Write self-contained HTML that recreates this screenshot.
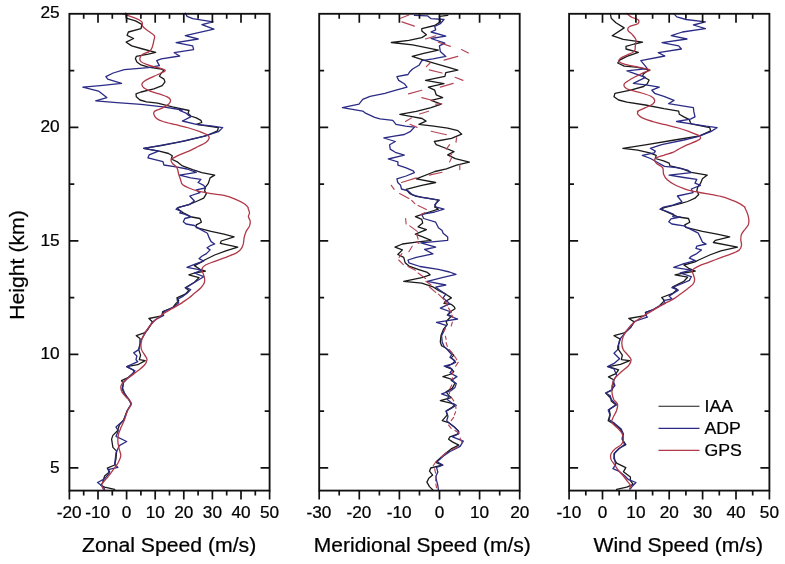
<!DOCTYPE html><html><head><meta charset="utf-8"><title>Wind profiles</title><style>html,body{margin:0;padding:0;background:#fff}svg{display:block}text{stroke:#000;stroke-width:0.25px;font-family:"Liberation Sans",Arial,sans-serif;fill:#000}</style></head><body>
<svg width="785" height="564" viewBox="0 0 785 564">
<rect width="785" height="564" fill="#fff"/>
<g fill="none" stroke-linejoin="round" stroke-linecap="round" stroke-width="1.3">
<polyline points="125.8,13.2 126.2,18.2 135.4,20.9 141.9,24.3 141.0,28.7 128.4,32.0 127.1,35.3 133.6,38.5 126.2,42.2 131.7,45.9 142.8,49.0 155.7,52.3 148.3,54.2 136.3,56.4 135.4,58.8 136.9,61.9 141.0,64.9 148.3,67.1 161.3,69.0 164.0,70.8 161.3,73.0 159.4,76.3 164.0,79.1 165.0,81.9 162.2,85.6 153.9,88.9 141.0,92.0 136.0,93.9 136.3,96.7 140.0,100.0 146.5,101.8 157.6,103.1 172.4,106.8 189.0,110.5 188.9,111.0 188.0,113.2 190.7,116.0 196.3,117.9 200.9,120.3 201.8,122.5 196.3,124.3 218.4,127.6 217.5,130.8 207.4,135.4 185.2,140.9 161.2,145.6 143.6,148.3 159.3,151.1 168.6,153.5 172.3,155.7 171.3,159.0 177.8,162.2 182.4,165.9 192.6,169.6 201.8,172.7 214.7,175.1 210.1,177.9 208.3,183.4 205.5,187.1 204.6,190.8 206.4,193.6 203.7,198.2 196.3,201.5 188.9,204.7 178.7,207.4 176.9,208.3 183.3,212.9 191.7,217.0 200.0,218.5 201.4,222.2 196.3,224.9 196.3,227.7 211.1,231.4 224.0,234.2 234.1,236.9 221.2,241.0 220.3,243.4 237.8,247.1 225.8,250.8 214.7,255.0 204.6,260.0 201.8,261.9 194.4,265.6 200.0,269.3 205.5,271.1 194.4,273.0 188.9,274.8 199.0,277.6 194.4,282.2 185.2,287.7 188.9,290.5 185.2,294.2 176.9,297.9 178.7,300.7 176.0,303.4 172.9,307.5 162.7,311.7 161.8,315.9 148.9,318.5 152.6,321.9 148.0,329.2 144.3,332.9 136.3,335.7 140.0,338.5 140.0,344.0 138.7,349.6 140.6,355.1 139.3,359.7 145.2,360.6 137.8,364.7 126.7,366.6 133.7,370.3 134.1,372.7 128.6,377.3 121.5,380.6 123.4,383.7 122.1,388.4 123.9,393.0 126.7,396.7 128.9,399.4 128.9,399.6 131.3,404.0 127.3,410.5 123.9,419.7 119.3,425.2 117.5,430.8 112.9,435.4 111.6,439.1 112.9,447.4 116.6,451.1 116.0,458.5 114.7,465.0 107.3,468.1 109.7,471.8 104.6,476.0 102.7,482.5 100.9,485.3 104.6,487.1 114.7,489.3" stroke="#1a1a1a"/>
<polyline points="185.3,13.2 187.1,16.3 192.7,18.7 213.0,21.9 201.9,24.6 213.9,29.2 185.3,35.7 198.2,39.0 176.1,42.7 192.7,45.9 193.6,49.6 174.2,52.7 179.7,56.0 161.3,58.8 156.7,60.6 159.4,65.6 148.3,67.7 124.3,69.7 113.2,73.0 105.9,76.7 107.7,79.1 121.6,83.4 100.3,85.6 82.8,87.1 98.5,91.1 106.8,97.6 95.7,100.9 116.9,102.6 141.0,104.4 163.1,106.8 182.5,110.0 179.6,110.5 186.1,113.2 190.7,116.9 182.4,121.0 196.3,124.3 211.1,125.8 222.7,127.6 218.4,131.7 203.7,136.3 179.6,141.9 159.3,145.6 143.6,148.3 158.4,151.1 149.2,154.8 147.9,157.9 163.0,161.6 163.9,165.0 176.0,166.8 187.0,169.0 196.3,172.3 179.6,175.1 190.7,177.9 200.9,179.4 198.1,182.5 203.7,185.3 205.5,188.0 196.3,189.9 200.0,192.7 189.8,196.0 194.4,201.0 188.9,204.7 179.6,207.1 176.0,209.2 181.5,211.5 179.6,212.9 185.2,214.4 190.7,217.0 184.8,218.5 183.3,221.8 186.1,224.0 194.4,225.5 199.0,228.6 207.4,233.2 209.2,237.9 211.1,241.6 214.7,244.0 211.1,245.3 207.0,247.7 210.1,249.9 206.4,253.6 201.8,256.3 199.0,258.7 203.7,261.0 196.3,263.7 187.0,267.4 201.8,270.2 194.4,273.0 203.7,276.7 196.3,281.3 186.1,287.7 190.7,289.6 188.0,292.4 183.3,296.1 176.9,299.7 178.7,302.5 178.4,303.0 173.8,307.1 165.5,310.8 162.7,313.5 163.7,315.4 156.3,319.1 152.6,321.9 148.9,327.4 144.8,333.9 141.5,339.4 140.0,344.9 138.7,349.6 133.7,352.9 136.9,356.0 136.0,359.7 137.8,361.6 126.7,366.6 135.0,370.8 132.3,373.6 127.6,378.2 123.4,382.8 122.7,388.4 124.5,393.0 127.1,397.2 128.9,399.4 128.9,399.6 131.3,404.0 127.3,410.5 123.4,420.6 116.0,427.1 118.4,430.8 116.0,436.3 126.7,441.5 119.3,445.6 116.0,453.0 114.7,464.0 117.9,467.4 108.2,469.6 109.2,473.3 104.6,478.8 97.5,482.5 103.6,487.1 104.6,489.5" stroke="#2b2b86"/>
<path d="M122.1,13.5C124.3,14.3 132.1,16.8 135.4,18.2C138.7,19.5 140.6,20.5 141.9,21.9C143.1,23.2 141.7,24.9 142.8,26.5C143.9,28.0 146.4,29.5 148.3,31.1C150.3,32.6 153.3,34.2 154.3,35.7C155.2,37.2 154.3,38.3 153.9,40.3C153.5,42.3 152.8,45.9 152.0,47.7C151.3,49.6 150.8,50.3 149.3,51.4C147.7,52.5 144.3,53.1 142.8,54.2C141.3,55.3 140.3,56.6 140.0,57.9C139.7,59.1 139.9,60.5 141.0,61.6C142.0,62.6 144.3,63.5 146.5,64.3C148.7,65.2 151.4,66.0 153.9,66.7C156.3,67.4 159.4,68.0 161.3,68.6C163.2,69.2 165.3,69.7 165.3,70.4C165.3,71.2 163.2,72.0 161.3,73.0C159.4,74.0 156.7,75.0 153.9,76.3C151.1,77.7 146.7,79.7 144.6,81.0C142.6,82.3 142.0,83.0 141.9,84.1C141.7,85.2 142.3,86.6 143.7,87.8C145.1,89.0 147.6,90.1 150.2,91.1C152.8,92.1 156.7,93.0 159.4,93.9C162.2,94.8 165.0,95.6 166.8,96.7C168.7,97.7 170.2,98.8 170.5,100.0C170.8,101.2 169.9,102.8 168.7,104.1C167.4,105.3 165.4,106.6 163.1,107.7C160.8,108.9 156.4,110.0 154.8,111.1C153.3,112.1 153.5,112.9 153.8,114.2C154.1,115.4 155.0,117.2 156.6,118.4C158.1,119.6 159.8,120.5 163.0,121.5C166.3,122.6 171.6,123.6 176.0,124.7C180.3,125.8 184.9,126.8 188.9,128.0C192.9,129.2 196.9,130.5 200.0,131.7C203.0,132.9 205.8,134.0 207.4,135.0C208.9,136.1 209.5,136.9 209.2,138.2C208.9,139.5 207.4,141.4 205.5,142.8C203.7,144.2 200.9,145.1 198.1,146.5C195.4,147.9 192.3,149.6 188.9,151.1C185.5,152.6 180.7,154.3 177.8,155.7C174.9,157.1 172.3,158.2 171.3,159.4C170.4,160.6 171.3,161.7 172.3,163.1C173.2,164.5 175.8,165.9 176.9,167.7C178.0,169.6 178.1,172.2 178.7,174.2C179.3,176.2 180.0,178.0 180.6,179.7C181.2,181.4 181.0,183.0 182.4,184.4C183.8,185.7 186.3,186.9 188.9,188.0C191.5,189.2 194.4,190.3 198.1,191.2C201.8,192.1 206.7,192.9 211.1,193.6C215.4,194.3 220.0,194.5 224.0,195.4C228.0,196.4 231.7,197.7 235.1,199.1C238.5,200.5 242.1,202.4 244.3,203.7C246.5,205.1 247.4,206.8 248.0,207.4C248.6,208.1 247.7,206.8 248.0,207.8C248.2,208.7 249.4,211.5 249.5,212.9C249.5,214.4 248.2,215.2 248.4,216.6C248.5,218.0 250.0,219.7 250.2,221.2C250.4,222.8 250.1,224.2 249.5,225.9C248.8,227.6 247.0,229.6 246.1,231.4C245.3,233.2 244.8,234.9 244.3,236.9C243.8,238.9 243.8,241.5 243.4,243.4C242.9,245.3 242.6,246.9 241.5,248.4C240.5,249.9 239.5,251.2 236.9,252.6C234.3,254.1 229.5,255.8 225.8,257.3C222.1,258.7 218.1,260.0 214.7,261.3C211.4,262.6 207.7,263.7 205.5,265.0C203.4,266.3 202.2,267.8 201.8,269.3C201.4,270.7 202.8,272.3 203.3,273.9C203.8,275.4 204.4,277.0 204.6,278.5C204.7,280.0 204.8,281.6 204.2,283.1C203.6,284.7 202.5,286.0 200.9,287.7C199.3,289.4 196.4,291.6 194.4,293.3C192.4,295.0 190.9,296.4 188.9,297.9C186.9,299.4 183.5,301.7 182.4,302.5C181.3,303.3 183.6,301.9 182.3,302.6C181.0,303.4 177.9,305.3 174.7,307.1C171.6,308.9 167.0,311.2 163.7,313.5C160.3,315.9 157.0,318.5 154.4,320.9C151.8,323.4 149.8,325.9 148.0,328.3C146.1,330.8 144.5,333.3 143.3,335.7C142.2,338.2 141.4,340.8 141.1,343.1C140.8,345.4 140.9,347.6 141.5,349.6C142.1,351.6 143.9,353.4 144.8,355.1C145.7,356.8 147.1,358.0 147.0,359.7C146.9,361.4 145.8,363.4 144.3,365.3C142.7,367.1 140.1,369.0 137.8,370.8C135.5,372.7 132.8,374.5 130.4,376.4C128.0,378.2 125.0,380.2 123.4,381.9C121.8,383.6 121.0,384.8 120.8,386.5C120.6,388.2 121.3,390.4 122.1,392.1C122.9,393.7 124.7,395.4 125.8,396.7C126.9,397.9 128.0,399.0 128.6,399.4C129.1,399.9 128.5,398.8 128.9,399.6C129.4,400.3 131.6,402.2 131.3,404.0C131.1,405.8 128.8,407.9 127.6,410.5C126.5,413.1 125.6,416.9 124.5,419.7C123.4,422.5 122.2,424.6 121.2,427.1C120.2,429.6 119.0,432.0 118.4,434.5C117.9,436.9 117.7,439.4 117.9,441.9C118.0,444.3 118.8,447.0 119.3,449.3C119.8,451.6 121.0,453.6 120.8,455.7C120.7,457.9 119.4,460.2 118.4,462.2C117.4,464.2 116.1,465.7 114.7,467.7C113.3,469.7 111.6,472.2 110.1,474.2C108.6,476.2 106.9,478.0 105.5,479.7C104.1,481.4 102.2,483.0 101.8,484.4C101.3,485.7 102.2,487.1 102.7,488.1C103.2,489.0 104.2,489.6 104.6,489.9" stroke="#b03848"/>
</g>
<rect x="69.4" y="13.8" width="200.2" height="476.8" fill="none" stroke="#111" stroke-width="1.85"/>
<text transform="translate(69.1,518.3) scale(1,0.92)" font-size="17.2" text-anchor="middle">-20</text>
<text transform="translate(97.7,518.3) scale(1,0.92)" font-size="17.2" text-anchor="middle">-10</text>
<text transform="translate(126.6,518.3) scale(1,0.92)" font-size="17.2" text-anchor="middle">0</text>
<text transform="translate(155.2,518.3) scale(1,0.92)" font-size="17.2" text-anchor="middle">10</text>
<text transform="translate(183.8,518.3) scale(1,0.92)" font-size="17.2" text-anchor="middle">20</text>
<text transform="translate(212.4,518.3) scale(1,0.92)" font-size="17.2" text-anchor="middle">30</text>
<text transform="translate(241.0,518.3) scale(1,0.92)" font-size="17.2" text-anchor="middle">40</text>
<text transform="translate(269.6,518.3) scale(1,0.92)" font-size="17.2" text-anchor="middle">50</text>
<path d="M69.4,490.6v9.0M83.7,13.8v4.9M83.7,490.6v4.9M98.0,13.8v9.0M98.0,490.6v9.0M112.3,13.8v4.9M112.3,490.6v4.9M126.6,13.8v9.0M126.6,490.6v9.0M140.9,13.8v4.9M140.9,490.6v4.9M155.2,13.8v9.0M155.2,490.6v9.0M169.5,13.8v4.9M169.5,490.6v4.9M183.8,13.8v9.0M183.8,490.6v9.0M198.1,13.8v4.9M198.1,490.6v4.9M212.4,13.8v9.0M212.4,490.6v9.0M226.7,13.8v4.9M226.7,490.6v4.9M241.0,13.8v9.0M241.0,490.6v9.0M255.3,13.8v4.9M255.3,490.6v4.9M269.6,490.6v9.0M69.4,467.9h9.0M269.6,467.9h-9.0M69.4,411.1h4.9M269.6,411.1h-4.9M69.4,354.4h9.0M269.6,354.4h-9.0M69.4,297.6h4.9M269.6,297.6h-4.9M69.4,240.8h9.0M269.6,240.8h-9.0M69.4,184.1h4.9M269.6,184.1h-4.9M69.4,127.3h9.0M269.6,127.3h-9.0M69.4,70.6h4.9M269.6,70.6h-4.9" stroke="#111" stroke-width="1.7" fill="none"/>
<text transform="translate(169.1,552.3) scale(1,0.92)" font-size="21.2" text-anchor="middle">Zonal Speed (m/s)</text>
<g fill="none" stroke-linejoin="round" stroke-linecap="round" stroke-width="1.3">
<polyline points="447.7,15.4 439.4,16.3 440.3,21.9 434.7,25.5 421.8,28.7 421.8,31.1 426.4,34.8 421.8,37.6 408.9,40.3 391.3,42.5 412.6,44.9 438.4,50.1 423.7,53.3 412.2,56.4 423.7,60.1 434.7,63.4 447.7,67.1 457.8,70.2 445.8,72.6 444.9,76.3 425.5,80.4 444.0,83.7 428.3,87.1 434.7,90.2 436.2,94.8 442.7,97.6 431.1,100.4 441.2,104.1 431.1,107.7 416.3,111.4 399.8,114.3 411.9,116.6 422.1,118.5 426.0,121.1 418.9,124.3 433.6,126.2 447.7,128.1 457.9,130.6 461.7,134.2 451.5,138.3 434.3,141.5 436.2,144.7 446.4,148.5 454.0,151.7 447.7,154.9 455.3,158.7 469.4,162.2 456.6,165.1 446.4,168.9 434.9,171.5 416.3,178.8 435.7,182.5 421.8,185.3 406.1,189.3 409.8,193.6 416.3,196.4 427.4,198.2 438.4,200.1 435.7,203.7 434.7,207.1 435.7,207.4 438.4,209.2 429.2,212.0 415.4,216.6 421.8,219.4 422.7,223.1 418.1,226.8 426.4,229.6 415.4,234.2 422.7,236.9 431.1,240.3 416.3,242.1 402.4,244.0 395.0,247.1 402.4,249.9 397.8,254.5 403.7,257.3 405.2,262.8 408.9,266.1 418.1,269.3 427.4,272.4 430.1,274.8 421.8,277.6 403.7,281.3 421.8,283.1 432.9,286.8 438.4,290.5 445.8,294.2 451.4,297.9 445.8,301.2 444.0,303.4 451.2,304.3 454.4,306.9 455.0,308.8 449.9,312.0 448.0,314.5 451.2,316.4 448.6,319.0 446.1,321.5 447.3,324.7 443.5,329.2 441.0,335.6 440.3,342.0 441.6,345.8 446.1,348.3 451.2,352.2 453.7,355.4 451.2,357.9 455.0,361.1 452.4,363.7 446.1,366.9 451.2,368.9 453.7,371.5 451.2,374.0 442.9,376.6 451.2,379.1 455.0,383.0 452.4,388.1 446.1,391.9 448.6,395.1 451.2,397.7 440.3,400.6 449.9,402.8 455.0,404.7 451.2,407.9 446.1,411.1 447.3,414.9 442.2,420.6 448.6,422.6 453.7,426.4 457.6,430.2 458.8,431.5 458.8,431.9 457.6,434.2 449.9,436.8 448.6,439.3 452.4,441.9 458.8,445.1 451.2,448.9 444.8,454.0 438.4,459.7 435.9,462.3 442.2,465.1 430.7,468.0 429.5,471.2 432.7,475.1 428.8,478.3 426.9,482.1 429.5,486.6 432.7,489.7" stroke="#1a1a1a"/>
<polyline points="414.4,15.4 427.4,15.8 431.1,18.7 444.0,19.5 440.3,23.7 434.7,26.5 435.7,29.8 431.1,32.0 445.8,36.1 431.1,38.5 444.9,43.1 439.4,45.9 440.3,51.4 445.8,56.4 432.9,58.8 421.8,60.6 419.0,65.3 412.6,69.0 409.8,71.7 408.0,74.5 396.9,76.7 398.7,80.4 404.3,83.7 407.0,87.1 396.0,90.2 384.9,93.3 370.1,96.3 362.7,99.4 359.0,104.1 342.4,107.7 362.7,111.1 365.5,113.2 374.7,117.3 380.0,118.9 392.8,120.4 396.0,124.3 405.5,126.2 414.5,127.1 410.6,131.3 404.3,134.5 392.8,136.4 383.8,138.0 395.3,141.5 389.6,144.7 390.2,149.1 395.3,152.3 404.3,155.1 388.3,159.0 397.9,161.9 397.9,165.1 405.5,167.7 413.2,170.9 414.4,172.7 406.1,176.0 396.9,178.8 397.8,182.5 400.6,185.3 401.5,189.0 408.0,190.8 412.6,194.9 421.8,197.3 432.9,199.1 439.4,200.1 434.7,204.7 436.2,207.1 437.5,207.4 444.0,209.2 434.7,212.0 421.8,214.4 423.7,218.5 435.7,222.2 438.4,227.7 442.1,230.5 443.1,233.2 447.7,236.9 447.7,240.3 434.7,241.6 420.9,242.9 435.7,247.1 424.6,249.5 432.9,253.9 416.3,257.3 408.0,260.0 408.9,262.8 420.0,266.5 438.4,269.3 449.5,272.0 456.0,274.3 442.1,277.6 427.4,281.3 445.8,285.0 435.7,287.2 440.3,290.5 445.8,294.2 443.1,297.9 449.5,303.4 449.9,303.7 440.3,308.1 451.2,312.0 447.3,315.1 457.6,319.0 446.1,320.9 436.5,322.4 446.1,325.4 444.8,329.2 441.6,335.6 442.2,342.0 444.1,346.4 447.3,349.6 451.8,354.7 449.9,357.3 453.7,359.8 455.6,362.4 451.2,364.3 444.1,366.2 449.9,367.5 452.4,369.6 449.9,372.8 456.9,376.6 451.2,380.4 456.3,383.6 455.0,387.4 451.2,390.6 441.6,393.8 448.6,396.4 447.3,399.6 452.4,403.4 456.3,405.3 451.2,408.5 446.1,411.1 448.0,416.2 446.7,420.6 449.9,423.8 454.4,427.0 458.2,430.9 458.8,433.6 452.4,436.8 463.3,441.2 460.1,446.3 451.2,450.8 443.5,455.9 437.1,461.7 442.9,465.1 436.5,467.4 437.8,471.9 435.9,476.3 436.5,480.2 437.8,485.3 438.4,489.7" stroke="#2b2b86"/>
<path d="M408.9,15.0L400.6,18.2M401.9,21.9L414.4,26.1M435.7,35.7L425.5,39.0M438.4,42.2L450.4,46.4M461.5,49.6L468.4,52.9M457.8,56.4L444.0,60.1M430.1,63.0L426.4,66.7M429.2,69.9L442.1,73.0M455.1,77.3L463.0,80.4M453.2,83.4L440.3,87.1M421.8,90.2L408.5,93.9M421.8,97.6L433.8,100.7M435.7,104.1L441.8,103.7M428.5,111.2L419.6,114.0M411.3,117.9L405.5,121.4M410.0,124.3L417.0,127.4M431.1,131.3L446.4,134.7M456.6,137.7L456.0,142.1M449.6,144.7L446.4,149.1M451.7,153.4L450.0,156.8M451.5,158.1L449.6,161.9M459.8,164.5L459.8,169.6M442.1,172.3L429.2,175.1M416.3,177.9L401.5,182.5M391.3,185.3L394.1,189.3M399.6,193.6L408.9,198.6M411.7,200.4L414.8,203.7M418.1,205.5L426.4,209.6M425.1,212.6L420.3,214.8M405.6,218.5L406.1,224.0M409.8,225.9L417.2,231.4M416.6,234.2L418.1,239.2M416.3,241.6L419.0,243.4M412.2,246.2L408.9,251.7M401.9,253.6L399.1,257.3M398.7,260.0L403.3,264.6M408.0,266.5L415.4,270.2M418.1,273.0L425.5,278.5M425.9,281.3L431.1,285.0M429.2,286.8L435.7,292.4M438.4,294.2L444.0,299.7M444.4,301.6L447.7,303.8M445.4,301.7L447.3,305.6M448.6,308.1L451.2,312.6M451.8,315.1L453.1,317.4M452.4,322.2L451.2,326.0M445.4,327.9L444.1,331.1M445.4,336.2L446.1,339.4M446.1,342.6L447.3,346.4M449.3,349.6L452.4,353.4M454.4,356.0L456.9,359.8M458.2,362.4L455.6,366.2M451.8,371.5L453.1,374.7M452.4,377.9L453.7,381.1M451.8,384.9L449.9,388.7M449.9,390.6L449.3,393.8M451.2,397.0L453.7,400.9M455.6,405.3L456.0,408.5M455.6,411.7L454.4,414.9M453.7,417.4L451.2,420.6M448.6,425.1L451.2,428.3M455.0,430.4L458.8,432.9M460.1,438.0L462.0,442.5M457.6,447.0L451.2,450.2M446.1,452.7L441.0,457.2M436.5,461.0L433.3,465.5M434.6,468.7L435.6,473.1M435.9,476.3L435.6,480.8M435.9,484.0L436.5,487.8" stroke="#b44455" stroke-width="1.15"/>
</g>
<rect x="319.2" y="13.8" width="200.5" height="476.8" fill="none" stroke="#111" stroke-width="1.85"/>
<text transform="translate(318.9,518.3) scale(1,0.92)" font-size="17.2" text-anchor="middle">-30</text>
<text transform="translate(359.0,518.3) scale(1,0.92)" font-size="17.2" text-anchor="middle">-20</text>
<text transform="translate(399.1,518.3) scale(1,0.92)" font-size="17.2" text-anchor="middle">-10</text>
<text transform="translate(439.5,518.3) scale(1,0.92)" font-size="17.2" text-anchor="middle">0</text>
<text transform="translate(479.6,518.3) scale(1,0.92)" font-size="17.2" text-anchor="middle">10</text>
<text transform="translate(519.7,518.3) scale(1,0.92)" font-size="17.2" text-anchor="middle">20</text>
<path d="M319.2,490.6v9.0M339.2,13.8v4.9M339.2,490.6v4.9M359.3,13.8v9.0M359.3,490.6v9.0M379.4,13.8v4.9M379.4,490.6v4.9M399.4,13.8v9.0M399.4,490.6v9.0M419.5,13.8v4.9M419.5,490.6v4.9M439.5,13.8v9.0M439.5,490.6v9.0M459.6,13.8v4.9M459.6,490.6v4.9M479.6,13.8v9.0M479.6,490.6v9.0M499.7,13.8v4.9M499.7,490.6v4.9M519.7,490.6v9.0M319.2,467.9h9.0M519.7,467.9h-9.0M319.2,411.1h4.9M519.7,411.1h-4.9M319.2,354.4h9.0M519.7,354.4h-9.0M319.2,297.6h4.9M519.7,297.6h-4.9M319.2,240.8h9.0M519.7,240.8h-9.0M319.2,184.1h4.9M519.7,184.1h-4.9M319.2,127.3h9.0M519.7,127.3h-9.0M319.2,70.6h4.9M519.7,70.6h-4.9" stroke="#111" stroke-width="1.7" fill="none"/>
<text transform="translate(422.3,552.3) scale(1,0.92)" font-size="21.0" text-anchor="middle">Meridional Speed (m/s)</text>
<g fill="none" stroke-linejoin="round" stroke-linecap="round" stroke-width="1.3">
<polyline points="610.3,13.5 611.2,18.2 615.9,22.8 624.2,27.9 612.2,35.7 623.2,39.4 642.6,42.2 634.3,44.0 626.0,46.4 626.0,49.0 638.4,52.3 626.9,56.4 619.6,60.1 617.7,63.0 624.2,66.2 636.2,67.1 649.1,69.9 643.6,73.6 642.6,76.3 649.1,80.0 647.3,83.7 643.6,86.5 630.6,90.2 614.9,93.3 614.0,96.7 618.6,100.0 626.9,102.2 645.4,105.0 663.9,108.7 678.7,111.1 678.7,111.4 679.3,114.2 683.9,116.9 689.4,119.7 690.4,122.5 691.3,123.9 709.7,127.6 710.7,130.8 699.6,135.8 674.6,140.0 646.9,144.6 622.9,148.3 637.7,150.2 649.7,152.9 656.2,155.4 655.3,158.5 663.6,160.9 669.1,163.1 670.0,165.9 682.0,168.6 691.3,172.3 707.3,175.1 702.4,178.8 700.5,183.4 697.7,187.1 696.8,190.8 698.7,194.5 695.0,198.2 687.6,201.5 680.2,203.7 665.4,207.4 663.6,207.8 660.8,209.2 669.1,212.9 678.3,217.0 688.5,218.5 689.8,222.2 684.8,224.9 685.7,227.3 702.4,231.4 717.1,234.2 729.7,236.9 715.3,240.3 713.4,242.5 737.5,247.1 720.8,250.8 709.7,255.0 698.7,260.0 695.0,261.9 683.9,265.0 689.4,268.7 695.3,271.1 683.9,273.0 675.0,274.8 687.6,277.2 683.9,281.3 672.8,286.8 677.4,289.6 672.8,293.3 661.7,297.5 664.5,300.7 661.7,303.4 659.3,306.2 652.8,309.9 645.4,312.3 646.3,315.4 628.8,318.5 634.3,321.9 630.6,327.4 624.2,332.9 614.0,335.7 619.9,338.9 618.6,344.9 618.6,349.6 622.3,355.1 621.4,359.7 629.7,360.6 620.5,364.3 608.5,366.6 618.6,369.9 615.9,373.6 608.5,376.9 614.0,380.0 613.1,384.7 612.2,390.2 605.7,393.0 609.4,396.7 611.2,399.4 611.2,400.9 616.0,404.9 609.2,409.5 610.1,414.2 608.2,420.6 612.9,423.4 619.3,428.0 623.0,433.6 622.1,439.1 625.8,444.6 619.3,448.3 614.7,453.0 613.8,458.5 616.6,463.1 625.8,467.7 623.4,471.8 630.4,477.0 630.4,480.7 633.2,484.4 626.7,487.1 616.6,489.3" stroke="#1a1a1a"/>
<polyline points="674.0,13.9 676.8,16.9 686.1,19.5 705.4,21.9 693.4,25.0 705.4,28.7 682.4,32.0 671.3,35.7 687.0,39.0 662.0,42.7 678.7,45.9 681.4,49.0 658.3,52.7 664.8,56.0 640.8,60.6 645.4,66.2 647.3,68.6 626.9,70.8 645.4,77.3 633.4,83.4 647.3,85.2 659.3,87.1 651.9,90.2 654.6,93.3 663.9,96.3 674.0,100.4 668.5,103.7 693.4,107.7 693.8,111.4 695.0,116.9 690.4,119.1 676.5,121.5 691.3,123.9 706.1,126.2 717.1,127.6 710.7,131.7 698.7,136.3 683.9,140.0 661.7,144.6 650.3,148.3 655.3,151.1 654.3,152.9 642.3,155.4 650.6,158.5 658.0,162.7 664.5,166.4 676.5,167.7 687.6,170.1 691.3,172.7 669.1,175.1 683.9,177.5 696.8,179.4 695.0,183.1 700.5,185.3 691.3,189.0 693.1,192.7 677.4,196.0 682.0,201.9 672.8,205.2 663.6,207.1 662.6,207.6 659.9,209.2 667.3,211.5 673.7,214.4 672.8,216.6 680.2,217.0 671.0,218.8 668.7,221.8 671.9,224.0 683.9,225.9 691.3,229.6 698.3,233.2 700.5,237.9 702.4,242.1 706.1,244.0 696.8,246.2 695.9,248.4 701.4,249.9 696.8,253.6 691.3,256.3 689.4,258.2 695.3,260.6 683.9,263.7 673.7,267.4 691.3,270.2 680.2,273.0 691.3,276.7 689.4,280.4 681.1,284.0 671.9,287.7 678.3,290.1 672.8,293.8 669.1,296.1 671.9,298.8 663.6,300.7 665.4,303.1 660.2,305.2 653.7,309.3 646.3,312.3 645.4,314.5 647.3,317.2 634.3,321.5 630.6,327.4 625.1,332.9 620.5,338.5 617.7,346.8 617.7,349.6 614.0,353.3 619.6,358.8 614.0,363.4 607.5,366.6 614.0,369.0 616.8,375.4 613.1,381.0 614.9,385.6 611.2,390.2 605.7,393.0 610.3,395.7 611.2,399.4 611.2,399.6 616.6,404.6 608.2,410.1 610.1,415.1 609.2,419.7 614.7,423.4 621.2,428.9 623.4,434.1 622.7,439.1 624.5,444.6 618.4,449.3 613.8,453.9 614.7,459.4 615.6,465.0 612.9,468.7 619.3,471.4 624.9,476.0 628.6,479.7 636.0,482.5 632.3,486.2 630.4,489.0" stroke="#2b2b86"/>
<path d="M626.9,13.5C627.7,14.2 629.7,16.2 631.6,17.2C633.5,18.3 637.4,18.9 638.4,20.0C639.4,21.1 639.1,22.6 637.7,23.7C636.2,24.8 631.3,25.4 629.7,26.5C628.1,27.5 627.4,28.8 627.9,30.2C628.3,31.6 631.2,33.2 632.5,34.8C633.8,36.3 635.3,37.6 635.8,39.4C636.3,41.2 635.5,43.9 635.3,45.9C635.0,47.9 635.7,49.9 634.3,51.4C632.9,52.9 629.3,54.0 626.9,55.1C624.6,56.2 621.8,57.2 620.5,58.2C619.2,59.3 618.4,60.6 619.2,61.6C620.0,62.6 622.0,63.4 625.1,64.3C628.2,65.3 633.9,66.2 638.0,67.1C642.2,68.0 649.1,69.0 650.0,69.9C651.0,70.8 645.9,71.6 643.6,72.6C641.3,73.7 638.8,75.0 636.2,76.3C633.6,77.7 629.9,79.7 627.9,81.0C625.9,82.3 624.6,83.0 624.2,84.1C623.7,85.2 624.0,86.4 625.1,87.4C626.2,88.4 627.9,89.3 630.6,90.2C633.4,91.1 638.3,92.0 641.7,93.0C645.1,94.0 648.8,95.1 651.0,96.3C653.1,97.5 654.3,98.7 654.6,100.0C655.0,101.3 654.3,102.8 652.8,104.1C651.3,105.3 647.9,106.6 645.4,107.7C643.0,108.9 639.2,110.5 638.0,111.1C636.8,111.7 638.1,110.9 638.1,111.4C638.0,111.9 637.0,113.1 637.7,114.2C638.4,115.2 639.9,116.6 642.3,117.9C644.8,119.1 648.6,120.4 652.5,121.5C656.3,122.7 661.1,123.6 665.4,124.7C669.7,125.8 674.3,126.8 678.3,128.0C682.3,129.2 686.0,130.5 689.4,131.7C692.8,132.9 696.8,134.3 698.7,135.4C700.5,136.5 700.8,137.2 700.5,138.2C700.2,139.1 699.0,139.9 696.8,140.9C694.7,142.0 690.7,143.3 687.6,144.6C684.5,146.0 680.8,148.0 678.3,149.3C675.9,150.5 675.3,151.4 672.8,152.4C670.3,153.4 666.5,154.3 663.6,155.4C660.6,156.4 656.5,157.2 655.3,158.5C654.0,159.8 654.9,161.6 656.2,163.1C657.4,164.6 661.4,165.9 662.6,167.7C663.9,169.6 662.8,172.2 663.6,174.2C664.3,176.2 665.3,177.9 667.3,179.7C669.3,181.6 672.8,183.8 675.6,185.3C678.3,186.8 681.3,187.7 683.9,188.6C686.5,189.5 687.6,190.0 691.3,190.8C695.0,191.6 701.1,192.7 706.1,193.6C711.0,194.5 716.5,195.3 720.8,196.4C725.1,197.4 728.8,198.9 731.9,200.1C735.0,201.2 737.1,202.2 739.3,203.4C741.5,204.5 743.9,206.4 744.8,207.1C745.8,207.8 744.4,206.4 744.8,207.6C745.3,208.7 746.9,211.7 747.6,213.9C748.3,216.0 748.8,218.5 748.9,220.3C749.0,222.2 748.8,223.4 748.2,224.9C747.5,226.5 745.9,228.0 744.8,229.6C743.7,231.1 742.2,232.5 741.5,234.2C740.8,235.9 740.8,237.9 740.8,239.7C740.8,241.6 741.8,243.6 741.5,245.3C741.3,246.9 740.9,248.5 739.3,249.9C737.7,251.3 735.0,252.3 731.9,253.6C728.8,254.9 724.5,256.2 720.8,257.6C717.1,259.0 713.4,260.5 709.7,261.9C706.1,263.3 701.6,264.7 698.7,266.1C695.7,267.5 693.1,268.9 692.2,270.2C691.3,271.5 692.7,272.3 693.1,273.9C693.5,275.4 694.6,277.7 694.6,279.4C694.6,281.1 694.3,282.5 693.1,284.0C692.0,285.6 689.7,287.0 687.6,288.7C685.4,290.4 682.7,292.4 680.2,294.2C677.7,296.0 675.3,297.9 672.8,299.4C670.3,300.9 667.8,301.8 665.4,303.1C663.0,304.4 661.1,305.5 658.3,307.1C655.6,308.7 652.2,310.8 649.1,312.6C646.0,314.5 642.6,316.3 639.9,318.2C637.1,320.0 634.6,321.7 632.5,323.7C630.3,325.7 628.5,328.0 626.9,330.2C625.4,332.3 624.1,334.5 623.2,336.6C622.4,338.8 621.8,340.9 621.8,343.1C621.8,345.3 622.2,347.6 623.2,349.6C624.3,351.6 626.6,353.4 627.9,355.1C629.2,356.8 630.9,358.0 631.0,359.7C631.2,361.4 630.4,363.3 628.8,365.3C627.2,367.3 623.7,369.6 621.4,371.7C619.1,373.9 616.5,376.0 614.9,378.2C613.4,380.4 612.7,382.7 612.2,384.7C611.6,386.7 611.7,388.4 611.8,390.2C611.9,392.1 612.2,394.2 612.5,395.7C612.8,397.3 613.5,398.8 613.6,399.4C613.8,400.1 613.0,398.8 613.6,399.6C614.2,400.3 617.0,402.2 617.5,404.0C618.0,405.8 617.3,408.2 616.6,410.5C615.8,412.8 613.6,415.9 612.9,417.9C612.1,419.9 611.2,420.8 611.9,422.5C612.7,424.2 615.8,426.2 617.5,428.0C619.2,429.9 621.1,431.6 622.1,433.6C623.1,435.6 623.5,438.2 623.4,440.0C623.2,441.9 622.6,443.1 621.2,444.6C619.7,446.2 616.4,447.7 614.7,449.3C613.0,450.8 611.6,452.2 611.0,453.9C610.4,455.6 610.4,457.6 611.0,459.4C611.6,461.3 613.5,463.1 614.7,465.0C615.9,466.8 617.0,468.7 618.4,470.5C619.9,472.4 621.9,474.2 623.4,476.0C624.9,477.9 626.5,480.0 627.6,481.6C628.8,483.1 630.1,484.0 630.4,485.3C630.7,486.5 629.6,488.4 629.5,489.0" stroke="#b03848"/>
</g>
<rect x="569.1" y="13.8" width="200.3" height="476.8" fill="none" stroke="#111" stroke-width="1.85"/>
<text transform="translate(568.8,518.3) scale(1,0.92)" font-size="17.2" text-anchor="middle">-10</text>
<text transform="translate(602.5,518.3) scale(1,0.92)" font-size="17.2" text-anchor="middle">0</text>
<text transform="translate(635.9,518.3) scale(1,0.92)" font-size="17.2" text-anchor="middle">10</text>
<text transform="translate(669.2,518.3) scale(1,0.92)" font-size="17.2" text-anchor="middle">20</text>
<text transform="translate(702.6,518.3) scale(1,0.92)" font-size="17.2" text-anchor="middle">30</text>
<text transform="translate(736.0,518.3) scale(1,0.92)" font-size="17.2" text-anchor="middle">40</text>
<text transform="translate(769.4,518.3) scale(1,0.92)" font-size="17.2" text-anchor="middle">50</text>
<path d="M569.1,490.6v9.0M585.8,13.8v4.9M585.8,490.6v4.9M602.5,13.8v9.0M602.5,490.6v9.0M619.2,13.8v4.9M619.2,490.6v4.9M635.9,13.8v9.0M635.9,490.6v9.0M652.6,13.8v4.9M652.6,490.6v4.9M669.2,13.8v9.0M669.2,490.6v9.0M685.9,13.8v4.9M685.9,490.6v4.9M702.6,13.8v9.0M702.6,490.6v9.0M719.3,13.8v4.9M719.3,490.6v4.9M736.0,13.8v9.0M736.0,490.6v9.0M752.7,13.8v4.9M752.7,490.6v4.9M769.4,490.6v9.0M569.1,467.9h9.0M769.4,467.9h-9.0M569.1,411.1h4.9M769.4,411.1h-4.9M569.1,354.4h9.0M769.4,354.4h-9.0M569.1,297.6h4.9M769.4,297.6h-4.9M569.1,240.8h9.0M769.4,240.8h-9.0M569.1,184.1h4.9M769.4,184.1h-4.9M569.1,127.3h9.0M769.4,127.3h-9.0M569.1,70.6h4.9M769.4,70.6h-4.9" stroke="#111" stroke-width="1.7" fill="none"/>
<text transform="translate(678.2,552.3) scale(1,0.92)" font-size="21.2" text-anchor="middle">Wind Speed (m/s)</text>
<text transform="translate(59.7,17.7) scale(1,0.92)" font-size="17.3" text-anchor="end">25</text>
<text transform="translate(59.7,132.2) scale(1,0.92)" font-size="17.3" text-anchor="end">20</text>
<text transform="translate(59.7,245.7) scale(1,0.92)" font-size="17.3" text-anchor="end">15</text>
<text transform="translate(59.7,359.3) scale(1,0.92)" font-size="17.3" text-anchor="end">10</text>
<text transform="translate(59.7,472.8) scale(1,0.92)" font-size="17.3" text-anchor="end">5</text>
<text transform="translate(23.7,265.0) rotate(-90) scale(1,0.92)" font-size="21.2" text-anchor="middle">Height (km)</text>
<line x1="658.5" y1="406.3" x2="699.5" y2="406.3" stroke="#1a1a1a" stroke-width="1.1"/>
<text transform="translate(704.5,412.2) scale(1,0.92)" font-size="17.7">IAA</text>
<line x1="658.5" y1="428.4" x2="699.5" y2="428.4" stroke="#2b2b86" stroke-width="1.1"/>
<text transform="translate(704.5,434.2) scale(1,0.92)" font-size="17.7">ADP</text>
<line x1="658.5" y1="450.4" x2="699.5" y2="450.4" stroke="#b03848" stroke-width="1.1"/>
<text transform="translate(704.5,456.3) scale(1,0.92)" font-size="17.7">GPS</text>
</svg></body></html>
